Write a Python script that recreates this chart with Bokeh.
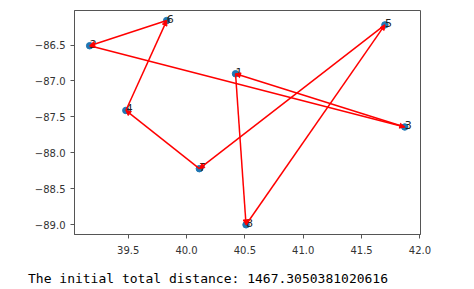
from bokeh.plotting import figure
from bokeh.models import (ColumnDataSource, Range1d, FixedTicker, Arrow, NormalHead, Div)
from bokeh.layouts import column
from bokeh.core.properties import value
from bokeh.embed import file_html
from bokeh.resources import INLINE

# City coordinates
city_ids = ["1", "2", "3", "4", "5", "6", "7", "8"]
city_x = [40.42, 39.17, 41.87, 39.48, 41.70, 39.83, 40.11, 40.51]
city_y = [-86.90, -86.51, -87.64, -87.41, -86.22, -86.16, -88.22, -89.00]

# Tour order (indices into the city lists)
route = [0, 7, 4, 6, 3, 5, 1, 2, 0]

x_ticks = [39.5, 40.0, 40.5, 41.0, 41.5, 42.0]
x_tick_labels = ["39.5", "40.0", "40.5", "41.0", "41.5", "42.0"]
y_ticks = [-89.0, -88.5, -88.0, -87.5, -87.0, -86.5]
y_tick_labels = ["\u221289.0", "\u221288.5", "\u221288.0", "\u221287.5", "\u221287.0", "\u221286.5"]

caption = "The initial total distance: 1467.3050381020616"

p = figure(width=474, height=260, output_backend="svg", toolbar_location=None,
           x_range=Range1d(39.04, 42.005), y_range=Range1d(-89.135, -86.02),
           min_border_left=74, min_border_right=54, min_border_top=10, min_border_bottom=26)
p.background_fill_color = "white"
p.border_fill_color = "white"
p.xgrid.visible = False
p.ygrid.visible = False
p.outline_line_color = "#555555"
p.outline_line_width = 1

for ax in (p.xaxis[0], p.yaxis[0]):
    ax.axis_line_color = "#555555"
    ax.major_tick_line_color = "#555555"
    ax.major_tick_in = 0
    ax.major_tick_out = 4
    ax.minor_tick_line_color = None
    ax.major_label_text_font = "DejaVu Sans"
    ax.major_label_text_font_size = "10px"
    ax.major_label_text_color = "#333333"
    ax.major_label_standoff = 5
p.xaxis.major_label_standoff = 7

p.xaxis.ticker = FixedTicker(ticks=x_ticks)
p.yaxis.ticker = FixedTicker(ticks=y_ticks)
p.xaxis.major_label_overrides = {t: l for t, l in zip(x_ticks, x_tick_labels)}
p.yaxis.major_label_overrides = {t: l for t, l in zip(y_ticks, y_tick_labels)}

pts = ColumnDataSource(dict(x=city_x, y=city_y, label=city_ids))
p.scatter("x", "y", source=pts, size=6.5, color="#1f77b4")

xs = [city_x[i] for i in route[:-1]]
ys = [city_y[i] for i in route[:-1]]
xe = [city_x[i] for i in route[1:]]
ye = [city_y[i] for i in route[1:]]
arr = ColumnDataSource(dict(x_start=xs, y_start=ys, x_end=xe, y_end=ye))
p.add_layout(Arrow(source=arr, x_start="x_start", y_start="y_start", x_end="x_end", y_end="y_end",
                   line_color="red", line_width=1.5,
                   end=NormalHead(size=5, fill_color="red", line_color="red", line_width=1)))

p.text("x", "y", text="label", source=pts, text_font=value("DejaVu Sans"),
       text_font_size="11px", text_color="#222222", text_align="left",
       text_baseline="bottom", x_offset=0, y_offset=2)

div = Div(text=caption, width=440, height=18, margin=(11, 0, 0, 28),
          styles={"font-family": "'DejaVu Sans Mono', monospace", "font-size": "13px",
                  "color": "black", "line-height": "16px", "white-space": "nowrap"})

layout = column(p, div, spacing=0)
open("out.html", "w").write(file_html(layout, INLINE))
